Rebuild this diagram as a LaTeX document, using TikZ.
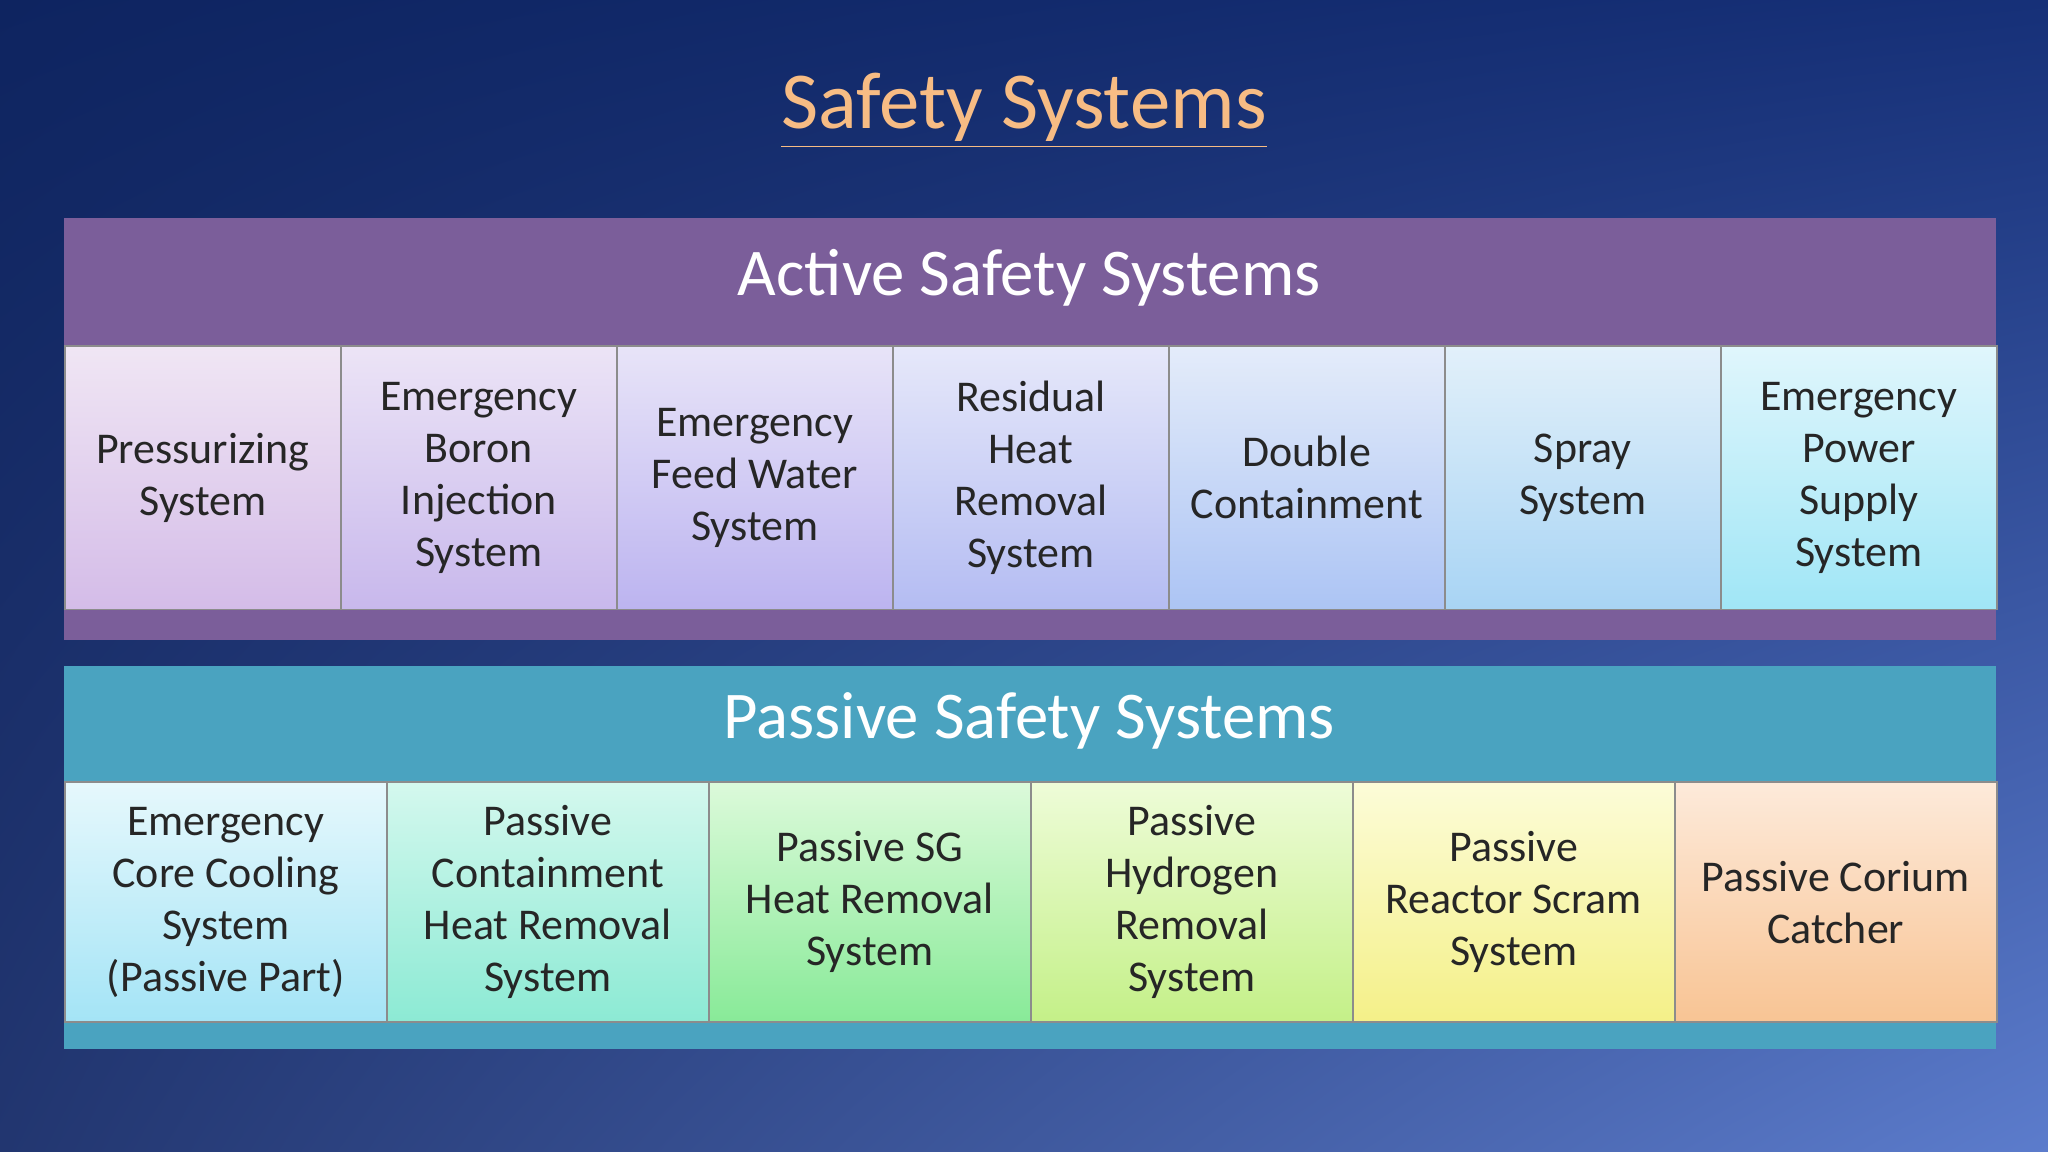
\documentclass[tikz,border=0pt]{standalone}
\usepackage{fontspec}
\setmainfont{Carlito}
\usetikzlibrary{positioning,shadings}
\definecolor{titleorange}{HTML}{F7BC84}
\definecolor{activepurple}{HTML}{7B5E9A}
\definecolor{passiveteal}{HTML}{4AA3C0}
\definecolor{bgul}{HTML}{0E2460}
\definecolor{bgur}{HTML}{163078}
\definecolor{bgll}{HTML}{223670}
\definecolor{bglr}{HTML}{5C7CCC}
\tikzset{
  cellbox/.style={draw=black!45,line width=0.5pt,minimum height=202*0.01306cm,
    minimum width=211.3*0.01306cm,inner sep=0pt,align=center,text=black!85,
    font=\fontsize{12.5}{14.8}\selectfont,anchor=north west},
  headtext/.style={text=white,font=\fontsize{19}{22}\selectfont}
}
\begin{document}
\begin{tikzpicture}[x=0.01306cm,y=-0.01306cm]
  % background
  \shade[upper left=bgul,upper right=bgur,lower left=bgll,lower right=bglr]
    (0,0) rectangle (1568,882);
  \useasboundingbox (0,0) rectangle (1568,882);
  % title
  \node[text=titleorange,font=\fontsize{23}{26}\selectfont] (title) at (784,85) {\underline{Safety Systems}};
  % active block
  \fill[activepurple] (49,167) rectangle (1528,490);
  \node[headtext] (activehead) at (788,213) {Active Safety Systems};
  \foreach \i/\tc/\bc/\txt in {
    0/F0E6F4/D4BCE8/{Pressurizing\\System},
    1/ECE4F6/C8B8EC/{Emergency\\Boron\\Injection\\System},
    2/E8E4F8/BCB4F0/{Emergency\\Feed Water\\System},
    3/E6E8FA/B4BCF2/{Residual\\Heat\\Removal\\System},
    4/E4ECFA/ACC4F4/{Double\\Containment},
    5/E2F0FA/A8D4F4/{Spray\\System},
    6/E0F6FC/A0E6F6/{Emergency\\Power\\Supply\\System}}{
    \definecolor{celltop}{HTML}{\tc}\definecolor{cellbot}{HTML}{\bc}
    \node[cellbox,top color=celltop,bottom color=cellbot] (active\i) at ({49+\i*211.3},264) {\txt};
  }
  % passive block
  \fill[passiveteal] (49,510) rectangle (1528,803);
  \node[headtext] (passivehead) at (788,552) {Passive Safety Systems};
  \foreach \i/\tc/\bc/\txt in {
    0/E6F8FC/A4E4F6/{Emergency\\Core Cooling\\System\\(Passive Part)},
    1/D4F8EE/8CEAD4/{Passive\\Containment\\Heat Removal\\System},
    2/DCFADA/88EA98/{Passive SG\\Heat Removal\\System},
    3/EEFCD8/C4F088/{Passive\\Hydrogen\\Removal\\System},
    4/FCFCD8/F4F088/{Passive\\Reactor Scram\\System},
    5/FDEADA/F8C494/{Passive Corium\\Catcher}}{
    \definecolor{celltop}{HTML}{\tc}\definecolor{cellbot}{HTML}{\bc}
    \node[cellbox,minimum width=246.5*0.01306cm,minimum height=184*0.01306cm,
      top color=celltop,bottom color=cellbot] (passive\i) at ({49+\i*246.5},598) {\txt};
  }
\end{tikzpicture}
\end{document}
